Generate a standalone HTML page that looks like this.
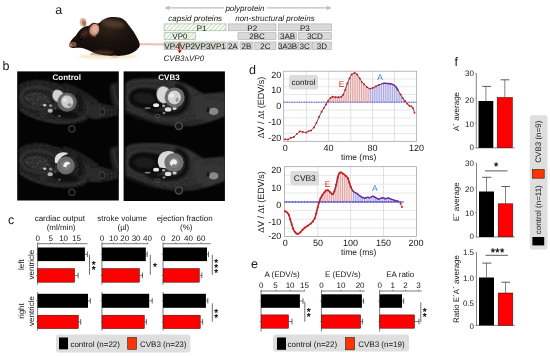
<!DOCTYPE html>
<html lang="en">
<head>
<meta charset="utf-8">
<title>CVB3 cardiac function figure</title>
<style>
html,body{margin:0;padding:0;background:#fff;}
body{width:550px;height:356px;overflow:hidden;}
svg{display:block;}
svg text{font-family:"Liberation Sans",sans-serif;fill:#161616;text-rendering:geometricPrecision;}
</style>
</head>
<body>
<svg width="550" height="356" viewBox="0 0 550 356">
<defs>
<filter id="b05" x="-30%" y="-30%" width="160%" height="160%"><feGaussianBlur stdDeviation="0.55"/></filter>
<filter id="b1" x="-30%" y="-30%" width="160%" height="160%"><feGaussianBlur stdDeviation="1"/></filter>
<filter id="b2" x="-30%" y="-30%" width="160%" height="160%"><feGaussianBlur stdDeviation="1.8"/></filter>
<radialGradient id="mg" cx="0.55" cy="0.3" r="0.75"><stop offset="0" stop-color="#2f2119"/><stop offset="0.5" stop-color="#19110d"/><stop offset="1" stop-color="#100a08"/></radialGradient>
<pattern id="hatch" width="3.2" height="3.2" patternUnits="userSpaceOnUse" patternTransform="rotate(45)"><rect width="3.2" height="3.2" fill="#fbfdf8"/><rect width="1" height="3.2" fill="#c2dfae"/></pattern>
<pattern id="hatch2" width="3.2" height="3.2" patternUnits="userSpaceOnUse" patternTransform="rotate(45)"><rect width="3.2" height="3.2" fill="#d6d8d2"/><rect width="1" height="3.2" fill="#bfd3b0"/></pattern>
<filter id="spk" x="0" y="0" width="100%" height="100%"><feTurbulence type="fractalNoise" baseFrequency="0.5" numOctaves="2" seed="7" result="n"/><feColorMatrix in="n" type="matrix" values="0 0 0 0 1  0 0 0 0 1  0 0 0 0 1  1.6 0 0 0 -0.62" result="a"/><feComposite in="a" in2="SourceGraphic" operator="in"/><feGaussianBlur stdDeviation="0.35"/></filter>
<pattern id="noise" width="5" height="4" patternUnits="userSpaceOnUse"><rect width="5" height="4" fill="#161616"/><circle cx="1" cy="1" r="0.8" fill="#2e2e2e"/><circle cx="3.6" cy="2.8" r="0.9" fill="#262626"/><circle cx="3.4" cy="0.6" r="0.5" fill="#0a0a0a"/></pattern>
</defs>
<rect width="550" height="356" fill="#ffffff"/>
<text x="55.3" y="14" font-size="12.5">a</text>
<text x="2.6" y="70.3" font-size="12.5">b</text>
<text x="8" y="224.3" font-size="12.5">c</text>
<text x="249" y="74" font-size="12.5">d</text>
<text x="251" y="267.9" font-size="12.5">e</text>
<text x="454.5" y="66" font-size="12.5">f</text>
<g id="panel-a">
<g id="mouse">
<ellipse cx="108" cy="56.4" rx="30" ry="2.4" fill="#f4e9c8" filter="url(#b1)"/>
<path d="M139 44.4 C146 43.4 154 44.8 164.2 44.4" fill="none" stroke="#e9c6b6" stroke-width="2.2" stroke-linecap="round"/>
<ellipse cx="83.2" cy="22.3" rx="3.5" ry="4.4" fill="#dcbb9f" transform="rotate(-10 83.2 22.3)"/>
<ellipse cx="84" cy="23.2" rx="2" ry="3" fill="#a57a5e" transform="rotate(-10 84 23.2)"/>
<path d="M69.3 45 C69.5 42 72 39 75.9 35.4 C78 32 80 29.5 83 27.5 C86 26 89 25.5 92 25 C95 24 97 23.5 99.2 23 C103 19.5 107 17.4 111.6 17.1 C115 16.9 118 17.1 120.4 17.8 C123.5 19 126 21.2 127.7 23.7 C131 28 133.5 31 135 33.9 C137.5 38 139 41 139.6 43.4 C140 46 139.2 47.6 137.9 48.5 C136.5 50.5 134.5 52 132 52.9 C128 54.6 124 55.6 120.4 55.8 C117 56.1 113 56 110.2 55.8 C106 55.6 102 55.2 98.5 54.3 C96 53.6 93.5 52.6 91.2 51.4 C88.5 50.2 86 49.2 83.9 48.5 C81 47.9 79 47.9 76.6 47.8 C74 48 71.5 47.9 70.2 47.2 C69.4 46.6 69.2 45.8 69.3 45 Z" fill="url(#mg)"/>
<ellipse cx="113" cy="23.6" rx="12" ry="4.2" fill="#6a4e3a" opacity="0.6" transform="rotate(8 113 23.6)" filter="url(#b2)"/>
<ellipse cx="84.6" cy="33.6" rx="5" ry="3" fill="#55301f" opacity="0.7" transform="rotate(-40 84.6 33.6)" filter="url(#b1)"/>
<ellipse cx="103" cy="52.6" rx="11" ry="2" fill="#5a3c2a" opacity="0.75" filter="url(#b1)"/>
<ellipse cx="73" cy="44.4" rx="3.6" ry="2.6" fill="#8c5247" opacity="0.9" filter="url(#b05)"/>
<ellipse cx="70.4" cy="45" rx="1.4" ry="1.5" fill="#bb8074"/>
<ellipse cx="93.8" cy="29.9" rx="5.9" ry="7.2" fill="#3a221a" transform="rotate(16 93.8 29.9)"/>
<ellipse cx="94.4" cy="29.8" rx="4.7" ry="6.1" fill="#c9947b" transform="rotate(16 94.4 29.8)"/>
<ellipse cx="95" cy="29" rx="2.8" ry="3.8" fill="#deb198" transform="rotate(16 95 29)" filter="url(#b05)"/>
<path d="M91 34 C92 36 94 37 96 36.4" fill="none" stroke="#6a3a2c" stroke-width="1.2" filter="url(#b05)"/>
<circle cx="80.8" cy="38" r="1.75" fill="#050303"/>
<circle cx="80.3" cy="37.5" r="0.45" fill="#aaa"/>
<ellipse cx="114.8" cy="56.7" rx="3.8" ry="1.2" fill="#ecc9bb"/>
<ellipse cx="92.6" cy="54.2" rx="2.4" ry="0.9" fill="#d9a998"/>
</g>
<line x1="167" y1="7.9" x2="224" y2="7.9" stroke="#bdbdbd" stroke-width="1.1"/>
<path d="M164.6 7.9 L169.4 5.6 L169.4 10.2 Z" fill="#bdbdbd"/>
<line x1="267" y1="7.9" x2="329" y2="7.9" stroke="#bdbdbd" stroke-width="1.1"/>
<path d="M331.6 7.9 L326.8 5.6 L326.8 10.2 Z" fill="#bdbdbd"/>
<text x="245" y="10.6" font-size="8" text-anchor="middle" font-style="italic">polyprotein</text>
<text x="195.2" y="20.6" font-size="8" text-anchor="middle" font-style="italic">capsid proteins</text>
<text x="275" y="20.6" font-size="8" text-anchor="middle" font-style="italic">non-structural proteins</text>
<rect x="164.10" y="23.90" width="61.90" height="6.90" fill="url(#hatch)" stroke="#a9a9a9" stroke-width="0.6"/>
<text x="201.6" y="30.5" font-size="8" text-anchor="middle">P1</text>
<rect x="228.40" y="23.90" width="47.60" height="6.90" fill="#d9d9d9" stroke="#a9a9a9" stroke-width="0.6"/>
<text x="252.2" y="30.5" font-size="8" text-anchor="middle">P2</text>
<rect x="278.40" y="23.90" width="52.90" height="6.90" fill="#d9d9d9" stroke="#a9a9a9" stroke-width="0.6"/>
<text x="304.9" y="30.5" font-size="8" text-anchor="middle">P3</text>
<rect x="164.10" y="32.70" width="31.70" height="6.80" fill="url(#hatch)" stroke="#a9a9a9" stroke-width="0.6"/>
<text x="179.9" y="39.2" font-size="8" text-anchor="middle">VP0</text>
<rect x="238.00" y="32.70" width="38.00" height="6.80" fill="#d9d9d9" stroke="#a9a9a9" stroke-width="0.6"/>
<text x="257.0" y="39.2" font-size="8" text-anchor="middle">2BC</text>
<rect x="278.40" y="32.70" width="18.20" height="6.80" fill="#d9d9d9" stroke="#a9a9a9" stroke-width="0.6"/>
<text x="287.5" y="39.2" font-size="8" text-anchor="middle">3AB</text>
<rect x="298.40" y="32.70" width="32.90" height="6.80" fill="#d9d9d9" stroke="#a9a9a9" stroke-width="0.6"/>
<text x="314.9" y="39.2" font-size="8" text-anchor="middle">3CD</text>
<rect x="164.10" y="42.00" width="61.90" height="7.50" fill="url(#hatch2)" stroke="#a9a9a9" stroke-width="0.6"/>
<line x1="179.6" y1="42" x2="179.6" y2="49.5" stroke="#a9a9a9" stroke-width="0.5"/>
<line x1="195.1" y1="42" x2="195.1" y2="49.5" stroke="#a9a9a9" stroke-width="0.5"/>
<line x1="210.6" y1="42" x2="210.6" y2="49.5" stroke="#a9a9a9" stroke-width="0.5"/>
<text x="195.1" y="49.2" font-size="8" text-anchor="middle" textLength="61.6" lengthAdjust="spacingAndGlyphs">VP4VP2VP3VP1</text>
<rect x="227.60" y="42.00" width="10.40" height="7.50" fill="#d9d9d9" stroke="#a9a9a9" stroke-width="0.6"/>
<text x="232.8" y="49.2" font-size="8" text-anchor="middle">2A</text>
<rect x="240.00" y="42.00" width="13.00" height="7.50" fill="#d9d9d9" stroke="#a9a9a9" stroke-width="0.6"/>
<text x="246.5" y="49.2" font-size="8" text-anchor="middle">2B</text>
<rect x="254.80" y="42.00" width="21.20" height="7.50" fill="#d9d9d9" stroke="#a9a9a9" stroke-width="0.6"/>
<text x="265.4" y="49.2" font-size="8" text-anchor="middle">2C</text>
<rect x="278.40" y="42.00" width="8.80" height="7.50" fill="#d9d9d9" stroke="#a9a9a9" stroke-width="0.6"/>
<text x="282.8" y="49.2" font-size="8" text-anchor="middle">3A</text>
<rect x="287.20" y="42.00" width="10.20" height="7.50" fill="#d9d9d9" stroke="#a9a9a9" stroke-width="0.6"/>
<text x="292.3" y="49.2" font-size="8" text-anchor="middle">3B</text>
<rect x="298.20" y="42.00" width="13.00" height="7.50" fill="#d9d9d9" stroke="#a9a9a9" stroke-width="0.6"/>
<text x="304.7" y="49.2" font-size="8" text-anchor="middle">3C</text>
<rect x="312.40" y="42.00" width="18.90" height="7.50" fill="#d9d9d9" stroke="#a9a9a9" stroke-width="0.6"/>
<text x="321.9" y="49.2" font-size="8" text-anchor="middle">3D</text>
<line x1="179.7" y1="42.3" x2="179.7" y2="51" stroke="#d21a1a" stroke-width="0.9"/>
<path d="M179.7 53.6 L177.7 50.2 L181.7 50.2 Z" fill="#b80f0f"/>
<text x="163.6" y="60.7" font-size="8" font-style="italic">CVB3<tspan font-family="Liberation Serif, serif" font-style="normal" font-size="7">Δ</tspan>VP0</text>
</g>
<g id="panel-b">
<rect x="17.20" y="71.40" width="101.60" height="129.10" fill="#040404"/>
<rect x="123.60" y="71.40" width="101.30" height="129.60" fill="#040404"/>
<svg x="17.2" y="71.4" width="101.6" height="129.1" viewBox="0 0 101.6 129.1">
<g transform="translate(0 0)">
<path d="M1.9 14 C5 10 16 7.6 24 8.3 C30 8.8 44 13 52 15.8 C58 18 72 26 78 29.7 C84 32.6 94 34.6 101.6 35.2 L101.6 43.6 C96 44.6 90 46.6 86 46.8 C80 48 74 47.4 70.5 46.6 C68 50 66 51 62 51.6 C56 53.4 44 53 37 52 C30 51 18 47.4 11 44.5 C6 42 2.4 39 1.9 37 Z" fill="#1c1c1c" filter="url(#b1)"/>
<g opacity="0.14"><path d="M1.9 14 C5 10 16 7.6 24 8.3 C30 8.8 44 13 52 15.8 C58 18 72 26 78 29.7 C84 32.6 94 34.6 101.6 35.2 L101.6 43.6 C96 44.6 90 46.6 86 46.8 C80 48 74 47.4 70.5 46.6 C68 50 66 51 62 51.6 C56 53.4 44 53 37 52 C30 51 18 47.4 11 44.5 C6 42 2.4 39 1.9 37 Z" fill="#fff" filter="url(#spk)"/></g>
<path d="M4 24 C6 16 16 14.6 26 16.6 C36 18.6 42 22 42.6 28 C43 34 36 38 26 37.4 C14 36.8 3 33 4 24 Z" fill="none" stroke="#343434" stroke-width="2.6" filter="url(#b1)"/>
<ellipse cx="20.6" cy="27.6" rx="14" ry="7.6" fill="#151515" transform="rotate(7 20.6 27.6)" filter="url(#b05)"/>
<ellipse cx="20.4" cy="27.8" rx="13.2" ry="7" fill="#262626" transform="rotate(7 20.4 27.8)" filter="url(#b1)"/>
<g opacity="0.3"><ellipse cx="20.4" cy="27.8" rx="13.6" ry="7.4" fill="#fff" transform="rotate(7 20.4 27.8)" filter="url(#spk)"/></g>
<path d="M3 38 C12 45 26 49.6 40 50.6 C52 51.4 62 49.6 68 44 C71 40 72 35 70 30" fill="none" stroke="#353535" stroke-width="1.8" filter="url(#b1)"/>
<path d="M46 12.6 C58 15.6 70 23 80 30.6" fill="none" stroke="#2e2e2e" stroke-width="2.2" filter="url(#b1)"/>
<ellipse cx="48" cy="42.4" rx="13" ry="3.6" fill="#070707" transform="rotate(8 48 42.4)" filter="url(#b1)"/>
<path d="M60 22 C64 27 65 34 62 40" fill="none" stroke="#0a0a0a" stroke-width="2.6" filter="url(#b1)"/>
<ellipse cx="78.8" cy="40" rx="9" ry="7" fill="#2b2b2b" filter="url(#b1)"/>
<ellipse cx="85" cy="40.4" rx="2.8" ry="3.2" fill="#1a1a1a" stroke="#444" stroke-width="1" filter="url(#b05)"/>
<path d="M93 13 C96 11.6 100 11 101.6 11 L101.6 38 C98 36 95 33 94 28 C93 22 92.4 17 93 13 Z" fill="#242424" filter="url(#b1)"/>
<path d="M96 14 C97 22 99 30 101.6 35" fill="none" stroke="#363636" stroke-width="1.2" filter="url(#b05)"/>
<circle cx="54.7" cy="57.5" r="3.1" fill="none" stroke="#343434" stroke-width="1.4" filter="url(#b05)"/>
<ellipse cx="27.5" cy="33.8" rx="1.7" ry="1.3" fill="#c4c4c4" filter="url(#b05)"/>
<ellipse cx="33.4" cy="34.2" rx="1.7" ry="1.5" fill="#858585" filter="url(#b05)"/>
<ellipse cx="33" cy="39.3" rx="2.6" ry="2" fill="#b4b4b4" filter="url(#b05)"/>
<ellipse cx="26" cy="43.6" rx="2.6" ry="1.8" fill="none" stroke="#3a3a3a" stroke-width="1" filter="url(#b05)"/>
<ellipse cx="42.3" cy="44.5" rx="1.4" ry="1" fill="#5c5c5c" filter="url(#b05)"/>
<ellipse cx="38" cy="37" rx="1.3" ry="1" fill="#444" filter="url(#b05)"/>

<ellipse cx="41" cy="24.6" rx="5.6" ry="6.6" fill="#d2d2d2" transform="rotate(-32 41 24.6)" filter="url(#b05)"/>
<circle cx="49.8" cy="30.8" r="9.6" fill="#626262" filter="url(#b05)"/>
<ellipse cx="50" cy="30.4" rx="6" ry="6.6" fill="#cbcbcb" transform="rotate(-25 50 30.4)" filter="url(#b05)"/>
<ellipse cx="52.4" cy="33.4" rx="2" ry="1.6" fill="#8c8c8c" filter="url(#b05)"/>
<ellipse cx="47.6" cy="28.6" rx="2.4" ry="2" fill="#e4e4e4" filter="url(#b05)"/>
</g>
<g transform="translate(0 63.5)">
<path d="M1.9 14 C5 10 16 7.6 24 8.3 C30 8.8 44 13 52 15.8 C58 18 72 26 78 29.7 C84 32.6 94 34.6 101.6 35.2 L101.6 43.6 C96 44.6 90 46.6 86 46.8 C80 48 74 47.4 70.5 46.6 C68 50 66 51 62 51.6 C56 53.4 44 53 37 52 C30 51 18 47.4 11 44.5 C6 42 2.4 39 1.9 37 Z" fill="#1c1c1c" filter="url(#b1)"/>
<g opacity="0.14"><path d="M1.9 14 C5 10 16 7.6 24 8.3 C30 8.8 44 13 52 15.8 C58 18 72 26 78 29.7 C84 32.6 94 34.6 101.6 35.2 L101.6 43.6 C96 44.6 90 46.6 86 46.8 C80 48 74 47.4 70.5 46.6 C68 50 66 51 62 51.6 C56 53.4 44 53 37 52 C30 51 18 47.4 11 44.5 C6 42 2.4 39 1.9 37 Z" fill="#fff" filter="url(#spk)"/></g>
<path d="M4 24 C6 16 16 14.6 26 16.6 C36 18.6 42 22 42.6 28 C43 34 36 38 26 37.4 C14 36.8 3 33 4 24 Z" fill="none" stroke="#343434" stroke-width="2.6" filter="url(#b1)"/>
<ellipse cx="20.6" cy="27.6" rx="14" ry="7.6" fill="#151515" transform="rotate(7 20.6 27.6)" filter="url(#b05)"/>
<ellipse cx="20.4" cy="27.8" rx="13.2" ry="7" fill="#262626" transform="rotate(7 20.4 27.8)" filter="url(#b1)"/>
<g opacity="0.3"><ellipse cx="20.4" cy="27.8" rx="13.6" ry="7.4" fill="#fff" transform="rotate(7 20.4 27.8)" filter="url(#spk)"/></g>
<path d="M3 38 C12 45 26 49.6 40 50.6 C52 51.4 62 49.6 68 44 C71 40 72 35 70 30" fill="none" stroke="#353535" stroke-width="1.8" filter="url(#b1)"/>
<path d="M46 12.6 C58 15.6 70 23 80 30.6" fill="none" stroke="#2e2e2e" stroke-width="2.2" filter="url(#b1)"/>
<ellipse cx="48" cy="42.4" rx="13" ry="3.6" fill="#070707" transform="rotate(8 48 42.4)" filter="url(#b1)"/>
<path d="M60 22 C64 27 65 34 62 40" fill="none" stroke="#0a0a0a" stroke-width="2.6" filter="url(#b1)"/>
<ellipse cx="78.8" cy="40" rx="9" ry="7" fill="#2b2b2b" filter="url(#b1)"/>
<ellipse cx="85" cy="40.4" rx="2.8" ry="3.2" fill="#1a1a1a" stroke="#444" stroke-width="1" filter="url(#b05)"/>
<path d="M93 13 C96 11.6 100 11 101.6 11 L101.6 38 C98 36 95 33 94 28 C93 22 92.4 17 93 13 Z" fill="#242424" filter="url(#b1)"/>
<path d="M96 14 C97 22 99 30 101.6 35" fill="none" stroke="#363636" stroke-width="1.2" filter="url(#b05)"/>
<circle cx="54.7" cy="57.5" r="3.1" fill="none" stroke="#343434" stroke-width="1.4" filter="url(#b05)"/>
<ellipse cx="27.5" cy="33.8" rx="1.7" ry="1.3" fill="#c4c4c4" filter="url(#b05)"/>
<ellipse cx="33.4" cy="34.2" rx="1.7" ry="1.5" fill="#858585" filter="url(#b05)"/>
<ellipse cx="33" cy="39.3" rx="2.6" ry="2" fill="#b4b4b4" filter="url(#b05)"/>
<ellipse cx="26" cy="43.6" rx="2.6" ry="1.8" fill="none" stroke="#3a3a3a" stroke-width="1" filter="url(#b05)"/>
<ellipse cx="42.3" cy="44.5" rx="1.4" ry="1" fill="#5c5c5c" filter="url(#b05)"/>
<ellipse cx="38" cy="37" rx="1.3" ry="1" fill="#444" filter="url(#b05)"/>

<path d="M38.6 27.4 C37 21 42.6 16.6 49.6 18.6 C44.4 19.8 41.4 23 41.2 28 Z" fill="#e0e0e0" stroke="#e0e0e0" stroke-width="1.6" stroke-linejoin="round" filter="url(#b05)"/>
<circle cx="48.6" cy="30.6" r="9" fill="#6c6c6c" filter="url(#b05)"/>
<circle cx="48.8" cy="30.6" r="5" fill="#7c7c7c" filter="url(#b05)"/>
<path d="M46.6 31 C46.8 27.8 49.8 26.6 52.2 28.4 C49.8 28.8 48.8 29.8 48.6 31.8 Z" fill="#f4f4f4" stroke="#f4f4f4" stroke-width="1.2" stroke-linejoin="round" filter="url(#b05)"/>
</g>
</svg>
<svg x="123.6" y="71.4" width="101.3" height="129.6" viewBox="0 0 101.3 129.6">
<g transform="translate(0 0)">
<path d="M1.9 11.6 C5 8.6 10 7.6 14.8 7.4 C22 7 30 7 37 7.4 C44 8 50 8.8 55.7 10.2 C61 11.8 66 14 70.5 16.7 C74 19 77 21.4 79.8 22.3 C84 23 88 21.8 92.8 21.3 L101.6 20.4 L101.6 44.6 C98 46 96 46.4 92.8 47.3 C88 49.6 84 51 79.8 52 C75 53.6 70 54.4 65 54.7 C58 55 52 54.6 46.4 53.8 C40 53 33 51.6 27.8 50 C22 48 16 46 11 43.6 C7 42 3 40.8 1.9 40 Z" fill="#2b2b2b" filter="url(#b1)"/>
<g opacity="0.12"><path d="M1.9 11.6 C5 8.6 10 7.6 14.8 7.4 C22 7 30 7 37 7.4 C44 8 50 8.8 55.7 10.2 C61 11.8 66 14 70.5 16.7 C74 19 77 21.4 79.8 22.3 C84 23 88 21.8 92.8 21.3 L101.6 20.4 L101.6 44.6 C98 46 96 46.4 92.8 47.3 C88 49.6 84 51 79.8 52 C75 53.6 70 54.4 65 54.7 C58 55 52 54.6 46.4 53.8 C40 53 33 51.6 27.8 50 C22 48 16 46 11 43.6 C7 42 3 40.8 1.9 40 Z" fill="#fff" filter="url(#spk)"/></g>
<path d="M70 26 C78 22.6 92 22.4 101.6 24 L101.6 43 C94 48 84 51 76 50 C72 44 68 34 70 26 Z" fill="#363636" filter="url(#b2)"/>
<path d="M4 24 C7 14.6 18 13.6 30 16 C40 18 46 22 45 30 C44 38 34 41 22 39.6 C10 38 2.6 33 4 24 Z" fill="#0e0e0e" stroke="#3e3e3e" stroke-width="1.3" filter="url(#b1)"/>
<ellipse cx="21" cy="27" rx="11" ry="5.6" fill="#1b1b1b" transform="rotate(6 21 27)" filter="url(#b1)"/>
<path d="M5 13 C16 9.6 32 9.6 46 11.4 C56 13 64 16.6 72 21.6" fill="none" stroke="#353535" stroke-width="2.4" filter="url(#b1)"/>
<path d="M22 37.6 C30 42 44 43.6 54 41 C62 38.6 65 30 62 21 C60 17 56 14.6 52 14" fill="none" stroke="#0c0c0c" stroke-width="4.6" filter="url(#b1)"/>
<path d="M2 41 C14 47.6 30 52 46 53 C58 53.6 70 52 80 49" fill="none" stroke="#1c1c1c" stroke-width="1.4" filter="url(#b1)"/>
<path d="M6 14 C16 10.6 30 10.6 44 12" fill="none" stroke="#1e1e1e" stroke-width="1.2" filter="url(#b1)"/>
<ellipse cx="90" cy="40" rx="4.8" ry="3.7" fill="#888" filter="url(#b05)"/>
<ellipse cx="84.4" cy="38.6" rx="1.5" ry="2.6" fill="#171717" filter="url(#b05)"/>
<path d="M80 28 C86 24.6 94 25 100 29" fill="none" stroke="#262626" stroke-width="1.2" filter="url(#b1)"/>
<circle cx="55.3" cy="54.7" r="3.5" fill="#141414" stroke="#4a4a4a" stroke-width="1.5" filter="url(#b05)"/>
<ellipse cx="32.5" cy="33.8" rx="3" ry="1.9" fill="#ececec" filter="url(#b05)"/>
<ellipse cx="24" cy="36.7" rx="3.2" ry="0.9" fill="#808080" filter="url(#b05)"/>
<ellipse cx="44.5" cy="38" rx="3.2" ry="2.2" fill="#e0e0e0" filter="url(#b05)"/>
<ellipse cx="51" cy="37" rx="2.1" ry="1.7" fill="#cfcfcf" filter="url(#b05)"/>
<ellipse cx="40" cy="34.3" rx="1.6" ry="1.3" fill="#a8a8a8" filter="url(#b05)"/>
<ellipse cx="40.4" cy="41.6" rx="1.5" ry="1.1" fill="#8e8e8e" filter="url(#b05)"/>
<ellipse cx="34" cy="44.6" rx="2.6" ry="1.8" fill="none" stroke="#4c4c4c" stroke-width="1" filter="url(#b05)"/>

<ellipse cx="40" cy="23.4" rx="7" ry="8.6" fill="#d8d8d8" transform="rotate(-10 40 23.4)" filter="url(#b05)"/>
<circle cx="51" cy="26" r="10" fill="#6c6c6c" filter="url(#b05)"/>
<ellipse cx="50.8" cy="26" rx="6.6" ry="7" fill="#d4d4d4" filter="url(#b05)"/>
<ellipse cx="53.6" cy="28.4" rx="1.6" ry="2.2" fill="#9c9c9c" filter="url(#b05)"/>
<ellipse cx="48" cy="24" rx="2.6" ry="2.2" fill="#ececec" filter="url(#b05)"/>
</g>
<g transform="translate(0 64.5)">
<path d="M1.9 11.6 C5 8.6 10 7.6 14.8 7.4 C22 7 30 7 37 7.4 C44 8 50 8.8 55.7 10.2 C61 11.8 66 14 70.5 16.7 C74 19 77 21.4 79.8 22.3 C84 23 88 21.8 92.8 21.3 L101.6 20.4 L101.6 44.6 C98 46 96 46.4 92.8 47.3 C88 49.6 84 51 79.8 52 C75 53.6 70 54.4 65 54.7 C58 55 52 54.6 46.4 53.8 C40 53 33 51.6 27.8 50 C22 48 16 46 11 43.6 C7 42 3 40.8 1.9 40 Z" fill="#2b2b2b" filter="url(#b1)"/>
<g opacity="0.12"><path d="M1.9 11.6 C5 8.6 10 7.6 14.8 7.4 C22 7 30 7 37 7.4 C44 8 50 8.8 55.7 10.2 C61 11.8 66 14 70.5 16.7 C74 19 77 21.4 79.8 22.3 C84 23 88 21.8 92.8 21.3 L101.6 20.4 L101.6 44.6 C98 46 96 46.4 92.8 47.3 C88 49.6 84 51 79.8 52 C75 53.6 70 54.4 65 54.7 C58 55 52 54.6 46.4 53.8 C40 53 33 51.6 27.8 50 C22 48 16 46 11 43.6 C7 42 3 40.8 1.9 40 Z" fill="#fff" filter="url(#spk)"/></g>
<path d="M70 26 C78 22.6 92 22.4 101.6 24 L101.6 43 C94 48 84 51 76 50 C72 44 68 34 70 26 Z" fill="#363636" filter="url(#b2)"/>
<path d="M4 24 C7 14.6 18 13.6 30 16 C40 18 46 22 45 30 C44 38 34 41 22 39.6 C10 38 2.6 33 4 24 Z" fill="#0e0e0e" stroke="#3e3e3e" stroke-width="1.3" filter="url(#b1)"/>
<ellipse cx="21" cy="27" rx="11" ry="5.6" fill="#1b1b1b" transform="rotate(6 21 27)" filter="url(#b1)"/>
<path d="M5 13 C16 9.6 32 9.6 46 11.4 C56 13 64 16.6 72 21.6" fill="none" stroke="#353535" stroke-width="2.4" filter="url(#b1)"/>
<path d="M22 37.6 C30 42 44 43.6 54 41 C62 38.6 65 30 62 21 C60 17 56 14.6 52 14" fill="none" stroke="#0c0c0c" stroke-width="4.6" filter="url(#b1)"/>
<path d="M2 41 C14 47.6 30 52 46 53 C58 53.6 70 52 80 49" fill="none" stroke="#1c1c1c" stroke-width="1.4" filter="url(#b1)"/>
<path d="M6 14 C16 10.6 30 10.6 44 12" fill="none" stroke="#1e1e1e" stroke-width="1.2" filter="url(#b1)"/>
<ellipse cx="90" cy="40" rx="4.8" ry="3.7" fill="#888" filter="url(#b05)"/>
<ellipse cx="84.4" cy="38.6" rx="1.5" ry="2.6" fill="#171717" filter="url(#b05)"/>
<path d="M80 28 C86 24.6 94 25 100 29" fill="none" stroke="#262626" stroke-width="1.2" filter="url(#b1)"/>
<circle cx="55.3" cy="54.7" r="3.5" fill="#141414" stroke="#4a4a4a" stroke-width="1.5" filter="url(#b05)"/>
<ellipse cx="32.5" cy="33.8" rx="3" ry="1.9" fill="#ececec" filter="url(#b05)"/>
<ellipse cx="24" cy="36.7" rx="3.2" ry="0.9" fill="#808080" filter="url(#b05)"/>
<ellipse cx="44.5" cy="38" rx="3.2" ry="2.2" fill="#e0e0e0" filter="url(#b05)"/>
<ellipse cx="51" cy="37" rx="2.1" ry="1.7" fill="#cfcfcf" filter="url(#b05)"/>
<ellipse cx="40" cy="34.3" rx="1.6" ry="1.3" fill="#a8a8a8" filter="url(#b05)"/>
<ellipse cx="40.4" cy="41.6" rx="1.5" ry="1.1" fill="#8e8e8e" filter="url(#b05)"/>
<ellipse cx="34" cy="44.6" rx="2.6" ry="1.8" fill="none" stroke="#4c4c4c" stroke-width="1" filter="url(#b05)"/>

<path d="M36.4 31 C32.6 24 36 16.2 44.6 15.8 C47.6 15.8 49.6 16.6 50.8 17.8 C44.8 19.2 43 24 43.6 32 Z" fill="#dadada" stroke="#dadada" stroke-width="1.2" stroke-linejoin="round" filter="url(#b05)"/>
<circle cx="50.4" cy="26.6" r="9.6" fill="#707070" filter="url(#b05)"/>
<circle cx="50.4" cy="26.6" r="5.6" fill="#828282" filter="url(#b05)"/>
<path d="M47 28.4 C46.2 24.6 49.6 22.6 52.2 24.4 C53.6 25.6 53.2 27.6 52 28.4 C50.6 27.4 49 27.6 48.2 29.4 Z" fill="#efefef" stroke="#efefef" stroke-width="1" stroke-linejoin="round" filter="url(#b05)"/>
</g>
</svg>
<text x="66.7" y="80.1" font-size="8" text-anchor="middle" style="fill:#fff" font-weight="bold">Control</text>
<text x="169" y="79.6" font-size="8" text-anchor="middle" style="fill:#fff" font-weight="bold">CVB3</text>
</g>
<g id="panel-c">
<text x="59.8" y="221" font-size="8" text-anchor="middle">cardiac output</text>
<text x="61.1" y="230.3" font-size="8" text-anchor="middle">(ml/min)</text>
<text x="122.1" y="221" font-size="8" text-anchor="middle">stroke volume</text>
<text x="123.4" y="230.3" font-size="8" text-anchor="middle">(µl)</text>
<text x="184.7" y="221" font-size="8" text-anchor="middle">ejection fraction</text>
<text x="186.2" y="230.3" font-size="8" text-anchor="middle">(%)</text>
<text x="24.3" y="264.6" font-size="8" text-anchor="middle" transform="rotate(-90 24.3 264.6)">left</text>
<text x="33.6" y="264.6" font-size="8" text-anchor="middle" transform="rotate(-90 33.6 264.6)">ventricle</text>
<text x="24.3" y="311" font-size="8" text-anchor="middle" transform="rotate(-90 24.3 311)">right</text>
<text x="33.6" y="311" font-size="8" text-anchor="middle" transform="rotate(-90 33.6 311)">ventricle</text>
<line x1="37.300000000000004" y1="243.7" x2="87.6" y2="243.7" stroke="#444" stroke-width="0.7"/>
<line x1="37.8" y1="242.39999999999998" x2="37.8" y2="243.7" stroke="#444" stroke-width="0.6"/>
<text x="37.8" y="241" font-size="8" text-anchor="middle">0</text>
<line x1="50.699999999999996" y1="242.39999999999998" x2="50.699999999999996" y2="243.7" stroke="#444" stroke-width="0.6"/>
<text x="50.7" y="241" font-size="8" text-anchor="middle">5</text>
<line x1="63.599999999999994" y1="242.39999999999998" x2="63.599999999999994" y2="243.7" stroke="#444" stroke-width="0.6"/>
<text x="63.6" y="241" font-size="8" text-anchor="middle">10</text>
<line x1="76.5" y1="242.39999999999998" x2="76.5" y2="243.7" stroke="#444" stroke-width="0.6"/>
<text x="76.5" y="241" font-size="8" text-anchor="middle">15</text>
<line x1="37.6" y1="243.7" x2="37.6" y2="284.7" stroke="#444" stroke-width="0.7"/>
<line x1="36.1" y1="254.3" x2="37.6" y2="254.3" stroke="#444" stroke-width="0.5"/>
<line x1="84.9" y1="254.3" x2="87.4" y2="254.3" stroke="#222" stroke-width="0.6"/>
<line x1="87.4" y1="251.5" x2="87.4" y2="257.1" stroke="#222" stroke-width="0.7"/>
<rect x="37.60" y="247.50" width="47.30" height="13.60" fill="#000"/>
<line x1="36.1" y1="275.4" x2="37.6" y2="275.4" stroke="#444" stroke-width="0.5"/>
<line x1="74.8" y1="275.4" x2="78.1" y2="275.4" stroke="#222" stroke-width="0.6"/>
<line x1="78.1" y1="272.59999999999997" x2="78.1" y2="278.2" stroke="#222" stroke-width="0.7"/>
<rect x="37.80" y="268.60" width="36.80" height="13.60" fill="#ff0000" stroke="#3a0000" stroke-width="0.5"/>
<line x1="37.6" y1="292" x2="37.6" y2="330.6" stroke="#444" stroke-width="0.7"/>
<line x1="36.1" y1="300.8" x2="37.6" y2="300.8" stroke="#444" stroke-width="0.5"/>
<line x1="88" y1="300.8" x2="90.3" y2="300.8" stroke="#222" stroke-width="0.6"/>
<line x1="90.3" y1="298.0" x2="90.3" y2="303.6" stroke="#222" stroke-width="0.7"/>
<rect x="37.60" y="293.80" width="50.40" height="14.00" fill="#000"/>
<line x1="36.1" y1="321.9" x2="37.6" y2="321.9" stroke="#444" stroke-width="0.5"/>
<line x1="78.5" y1="321.9" x2="80.7" y2="321.9" stroke="#222" stroke-width="0.6"/>
<line x1="80.7" y1="319.09999999999997" x2="80.7" y2="324.7" stroke="#222" stroke-width="0.7"/>
<rect x="37.80" y="315.20" width="40.50" height="13.40" fill="#ff0000" stroke="#3a0000" stroke-width="0.5"/>
<line x1="101.60000000000001" y1="243.7" x2="148.4" y2="243.7" stroke="#444" stroke-width="0.7"/>
<line x1="102.1" y1="242.39999999999998" x2="102.1" y2="243.7" stroke="#444" stroke-width="0.6"/>
<text x="102.1" y="241" font-size="8" text-anchor="middle">0</text>
<line x1="113.44999999999999" y1="242.39999999999998" x2="113.44999999999999" y2="243.7" stroke="#444" stroke-width="0.6"/>
<text x="113.4" y="241" font-size="8" text-anchor="middle">10</text>
<line x1="124.8" y1="242.39999999999998" x2="124.8" y2="243.7" stroke="#444" stroke-width="0.6"/>
<text x="124.8" y="241" font-size="8" text-anchor="middle">20</text>
<line x1="136.14999999999998" y1="242.39999999999998" x2="136.14999999999998" y2="243.7" stroke="#444" stroke-width="0.6"/>
<text x="136.1" y="241" font-size="8" text-anchor="middle">30</text>
<line x1="147.5" y1="242.39999999999998" x2="147.5" y2="243.7" stroke="#444" stroke-width="0.6"/>
<text x="147.5" y="241" font-size="8" text-anchor="middle">40</text>
<line x1="101.9" y1="243.7" x2="101.9" y2="284.7" stroke="#444" stroke-width="0.7"/>
<line x1="100.4" y1="254.3" x2="101.9" y2="254.3" stroke="#444" stroke-width="0.5"/>
<line x1="145.8" y1="254.3" x2="147.2" y2="254.3" stroke="#222" stroke-width="0.6"/>
<line x1="147.2" y1="251.5" x2="147.2" y2="257.1" stroke="#222" stroke-width="0.7"/>
<rect x="101.90" y="247.50" width="43.90" height="13.60" fill="#000"/>
<line x1="100.4" y1="275.4" x2="101.9" y2="275.4" stroke="#444" stroke-width="0.5"/>
<line x1="139.6" y1="275.4" x2="142.4" y2="275.4" stroke="#222" stroke-width="0.6"/>
<line x1="142.4" y1="272.59999999999997" x2="142.4" y2="278.2" stroke="#222" stroke-width="0.7"/>
<rect x="102.10" y="268.60" width="37.30" height="13.60" fill="#ff0000" stroke="#3a0000" stroke-width="0.5"/>
<line x1="101.9" y1="292" x2="101.9" y2="330.6" stroke="#444" stroke-width="0.7"/>
<line x1="100.4" y1="300.8" x2="101.9" y2="300.8" stroke="#444" stroke-width="0.5"/>
<line x1="149.2" y1="300.8" x2="152.2" y2="300.8" stroke="#222" stroke-width="0.6"/>
<line x1="152.2" y1="298.0" x2="152.2" y2="303.6" stroke="#222" stroke-width="0.7"/>
<rect x="101.90" y="293.80" width="47.30" height="14.00" fill="#000"/>
<line x1="100.4" y1="321.9" x2="101.9" y2="321.9" stroke="#444" stroke-width="0.5"/>
<line x1="144.5" y1="321.9" x2="146.4" y2="321.9" stroke="#222" stroke-width="0.6"/>
<line x1="146.4" y1="319.09999999999997" x2="146.4" y2="324.7" stroke="#222" stroke-width="0.7"/>
<rect x="102.10" y="315.20" width="42.20" height="13.40" fill="#ff0000" stroke="#3a0000" stroke-width="0.5"/>
<line x1="162.7" y1="243.7" x2="210.8" y2="243.7" stroke="#444" stroke-width="0.7"/>
<line x1="163.2" y1="242.39999999999998" x2="163.2" y2="243.7" stroke="#444" stroke-width="0.6"/>
<text x="163.2" y="241" font-size="8" text-anchor="middle">0</text>
<line x1="175.79999999999998" y1="242.39999999999998" x2="175.79999999999998" y2="243.7" stroke="#444" stroke-width="0.6"/>
<text x="175.8" y="241" font-size="8" text-anchor="middle">20</text>
<line x1="188.39999999999998" y1="242.39999999999998" x2="188.39999999999998" y2="243.7" stroke="#444" stroke-width="0.6"/>
<text x="188.4" y="241" font-size="8" text-anchor="middle">40</text>
<line x1="201.0" y1="242.39999999999998" x2="201.0" y2="243.7" stroke="#444" stroke-width="0.6"/>
<text x="201.0" y="241" font-size="8" text-anchor="middle">60</text>
<line x1="163" y1="243.7" x2="163" y2="284.7" stroke="#444" stroke-width="0.7"/>
<line x1="161.5" y1="254.3" x2="163" y2="254.3" stroke="#444" stroke-width="0.5"/>
<line x1="207" y1="254.3" x2="208.5" y2="254.3" stroke="#222" stroke-width="0.6"/>
<line x1="208.5" y1="251.5" x2="208.5" y2="257.1" stroke="#222" stroke-width="0.7"/>
<rect x="163.00" y="247.50" width="44.00" height="13.60" fill="#000"/>
<line x1="161.5" y1="275.4" x2="163" y2="275.4" stroke="#444" stroke-width="0.5"/>
<line x1="199.5" y1="275.4" x2="201.8" y2="275.4" stroke="#222" stroke-width="0.6"/>
<line x1="201.8" y1="272.59999999999997" x2="201.8" y2="278.2" stroke="#222" stroke-width="0.7"/>
<rect x="163.20" y="268.60" width="36.10" height="13.60" fill="#ff0000" stroke="#3a0000" stroke-width="0.5"/>
<line x1="163" y1="292" x2="163" y2="330.6" stroke="#444" stroke-width="0.7"/>
<line x1="161.5" y1="300.8" x2="163" y2="300.8" stroke="#444" stroke-width="0.5"/>
<line x1="205.9" y1="300.8" x2="207.8" y2="300.8" stroke="#222" stroke-width="0.6"/>
<line x1="207.8" y1="298.0" x2="207.8" y2="303.6" stroke="#222" stroke-width="0.7"/>
<rect x="163.00" y="293.80" width="42.90" height="14.00" fill="#000"/>
<line x1="161.5" y1="321.9" x2="163" y2="321.9" stroke="#444" stroke-width="0.5"/>
<line x1="200.4" y1="321.9" x2="202.6" y2="321.9" stroke="#222" stroke-width="0.6"/>
<line x1="202.6" y1="319.09999999999997" x2="202.6" y2="324.7" stroke="#222" stroke-width="0.7"/>
<rect x="163.20" y="315.20" width="37.00" height="13.40" fill="#ff0000" stroke="#3a0000" stroke-width="0.5"/>
<line x1="89.5" y1="254.8" x2="89.5" y2="274.8" stroke="#333" stroke-width="0.7"/>
<text x="93.7" y="268.2" font-size="10" text-anchor="middle" style="fill:#000" stroke="#000" stroke-width="0.25">*</text>
<text x="93.7" y="273.2" font-size="10" text-anchor="middle" style="fill:#000" stroke="#000" stroke-width="0.25">*</text>
<line x1="150.3" y1="254.8" x2="150.3" y2="274.9" stroke="#333" stroke-width="0.7"/>
<text x="154.9" y="270.1" font-size="10" text-anchor="middle" style="fill:#000" stroke="#000" stroke-width="0.25">*</text>
<line x1="212.3" y1="254.8" x2="212.3" y2="274.9" stroke="#333" stroke-width="0.7"/>
<text x="216.1" y="265.7" font-size="10" text-anchor="middle" style="fill:#000" stroke="#000" stroke-width="0.25">*</text>
<text x="216.1" y="270.7" font-size="10" text-anchor="middle" style="fill:#000" stroke="#000" stroke-width="0.25">*</text>
<text x="216.1" y="275.7" font-size="10" text-anchor="middle" style="fill:#000" stroke="#000" stroke-width="0.25">*</text>
<line x1="212.3" y1="303.3" x2="212.3" y2="321.8" stroke="#333" stroke-width="0.7"/>
<text x="216.1" y="315.5" font-size="10" text-anchor="middle" style="fill:#000" stroke="#000" stroke-width="0.25">*</text>
<text x="216.1" y="320.5" font-size="10" text-anchor="middle" style="fill:#000" stroke="#000" stroke-width="0.25">*</text>
<rect x="56.00" y="334.40" width="134.40" height="18.00" fill="#dedede" rx="2.5"/>
<rect x="59.00" y="337.50" width="9.00" height="11.80" fill="#000"/>
<text x="70.4" y="347.2" font-size="8">control (n=22)</text>
<rect x="127.70" y="337.50" width="8.70" height="11.80" fill="#ff3300" stroke="#222" stroke-width="0.6"/>
<text x="140" y="347.2" font-size="8">CVB3 (n=23)</text>
</g>
<g id="panel-d">
<line x1="306.4" y1="71.2" x2="306.4" y2="141.3" stroke="#cfcfcf" stroke-width="0.6"/>
<line x1="328.6" y1="71.2" x2="328.6" y2="141.3" stroke="#cfcfcf" stroke-width="0.6"/>
<line x1="350.8" y1="71.2" x2="350.8" y2="141.3" stroke="#cfcfcf" stroke-width="0.6"/>
<line x1="372.6" y1="71.2" x2="372.6" y2="141.3" stroke="#cfcfcf" stroke-width="0.6"/>
<line x1="394.4" y1="71.2" x2="394.4" y2="141.3" stroke="#cfcfcf" stroke-width="0.6"/>
<line x1="283.7" y1="79.0" x2="416.7" y2="79.0" stroke="#d6d6d6" stroke-width="0.6"/>
<line x1="283.7" y1="86.8" x2="416.7" y2="86.8" stroke="#d6d6d6" stroke-width="0.6"/>
<line x1="283.7" y1="94.5" x2="416.7" y2="94.5" stroke="#d6d6d6" stroke-width="0.6"/>
<line x1="283.7" y1="102.2" x2="416.7" y2="102.2" stroke="#d6d6d6" stroke-width="0.6"/>
<line x1="283.7" y1="110.0" x2="416.7" y2="110.0" stroke="#d6d6d6" stroke-width="0.6"/>
<line x1="283.7" y1="117.9" x2="416.7" y2="117.9" stroke="#d6d6d6" stroke-width="0.6"/>
<line x1="283.7" y1="125.7" x2="416.7" y2="125.7" stroke="#d6d6d6" stroke-width="0.6"/>
<line x1="283.7" y1="133.5" x2="416.7" y2="133.5" stroke="#d6d6d6" stroke-width="0.6"/>
<rect x="283.70" y="71.20" width="133.00" height="70.10" fill="none" stroke="#9a9a9a" stroke-width="0.7"/>
<path d="M327.4 102.2 L327.4 102.1 L328.2 100.8 L330.4 97.9 L332.6 96.8 L335.5 97.2 L338.4 97.2 L341.3 96.8 L343.0 95.0 L345.1 90.1 L347.3 83.5 L349.5 78.4 L351.7 74.5 L354.6 73.0 L357.2 74.5 L359.7 78.4 L361.9 82.1 L364.1 84.2 L367.0 87.2 L369.9 88.6 L369.9 102.2 Z" fill="#f6e4e2"/>
<path d="M369.9 102.2 L369.9 88.6 L372.8 87.9 L375.8 86.4 L378.7 85.0 L381.6 83.8 L384.5 83.2 L387.4 83.5 L390.4 83.8 L393.3 84.7 L396.2 87.2 L398.4 90.8 L400.6 94.5 L402.8 98.1 L405.0 101.0 L405.8 102.0 L405.8 102.2 Z" fill="#e2e0f3"/>
<line x1="328.6" y1="102.2" x2="328.6" y2="100.3" stroke="#c85a5a" stroke-width="0.5"/>
<line x1="330.8" y1="102.2" x2="330.8" y2="97.7" stroke="#c85a5a" stroke-width="0.5"/>
<line x1="333.0" y1="102.2" x2="333.0" y2="96.9" stroke="#c85a5a" stroke-width="0.5"/>
<line x1="335.2" y1="102.2" x2="335.2" y2="97.2" stroke="#c85a5a" stroke-width="0.5"/>
<line x1="337.4" y1="102.2" x2="337.4" y2="97.2" stroke="#c85a5a" stroke-width="0.5"/>
<line x1="339.6" y1="102.2" x2="339.6" y2="97.0" stroke="#c85a5a" stroke-width="0.5"/>
<line x1="341.8" y1="102.2" x2="341.8" y2="96.3" stroke="#c85a5a" stroke-width="0.5"/>
<line x1="344.0" y1="102.2" x2="344.0" y2="92.7" stroke="#c85a5a" stroke-width="0.5"/>
<line x1="346.2" y1="102.2" x2="346.2" y2="86.8" stroke="#c85a5a" stroke-width="0.5"/>
<line x1="348.4" y1="102.2" x2="348.4" y2="81.0" stroke="#c85a5a" stroke-width="0.5"/>
<line x1="350.6" y1="102.2" x2="350.6" y2="76.5" stroke="#c85a5a" stroke-width="0.5"/>
<line x1="352.8" y1="102.2" x2="352.8" y2="73.9" stroke="#c85a5a" stroke-width="0.5"/>
<line x1="355.0" y1="102.2" x2="355.0" y2="73.2" stroke="#c85a5a" stroke-width="0.5"/>
<line x1="357.2" y1="102.2" x2="357.2" y2="74.5" stroke="#c85a5a" stroke-width="0.5"/>
<line x1="359.4" y1="102.2" x2="359.4" y2="77.9" stroke="#c85a5a" stroke-width="0.5"/>
<line x1="361.6" y1="102.2" x2="361.6" y2="81.6" stroke="#c85a5a" stroke-width="0.5"/>
<line x1="363.8" y1="102.2" x2="363.8" y2="83.9" stroke="#c85a5a" stroke-width="0.5"/>
<line x1="366.0" y1="102.2" x2="366.0" y2="86.2" stroke="#c85a5a" stroke-width="0.5"/>
<line x1="368.2" y1="102.2" x2="368.2" y2="87.8" stroke="#c85a5a" stroke-width="0.5"/>
<line x1="370.4" y1="102.2" x2="370.4" y2="88.5" stroke="#6a6acc" stroke-width="0.5"/>
<line x1="372.6" y1="102.2" x2="372.6" y2="87.9" stroke="#6a6acc" stroke-width="0.5"/>
<line x1="374.8" y1="102.2" x2="374.8" y2="86.9" stroke="#6a6acc" stroke-width="0.5"/>
<line x1="377.0" y1="102.2" x2="377.0" y2="85.8" stroke="#6a6acc" stroke-width="0.5"/>
<line x1="379.2" y1="102.2" x2="379.2" y2="84.8" stroke="#6a6acc" stroke-width="0.5"/>
<line x1="381.4" y1="102.2" x2="381.4" y2="83.9" stroke="#6a6acc" stroke-width="0.5"/>
<line x1="383.6" y1="102.2" x2="383.6" y2="83.4" stroke="#6a6acc" stroke-width="0.5"/>
<line x1="385.8" y1="102.2" x2="385.8" y2="83.3" stroke="#6a6acc" stroke-width="0.5"/>
<line x1="388.0" y1="102.2" x2="388.0" y2="83.6" stroke="#6a6acc" stroke-width="0.5"/>
<line x1="390.2" y1="102.2" x2="390.2" y2="83.8" stroke="#6a6acc" stroke-width="0.5"/>
<line x1="392.4" y1="102.2" x2="392.4" y2="84.4" stroke="#6a6acc" stroke-width="0.5"/>
<line x1="394.6" y1="102.2" x2="394.6" y2="85.8" stroke="#6a6acc" stroke-width="0.5"/>
<line x1="396.8" y1="102.2" x2="396.8" y2="88.2" stroke="#6a6acc" stroke-width="0.5"/>
<line x1="399.0" y1="102.2" x2="399.0" y2="91.8" stroke="#6a6acc" stroke-width="0.5"/>
<line x1="401.2" y1="102.2" x2="401.2" y2="95.5" stroke="#6a6acc" stroke-width="0.5"/>
<line x1="403.4" y1="102.2" x2="403.4" y2="98.9" stroke="#6a6acc" stroke-width="0.5"/>
<line x1="405.6" y1="102.2" x2="405.6" y2="101.7" stroke="#6a6acc" stroke-width="0.5"/>
<line x1="283.7" y1="102.2" x2="416.7" y2="102.2" stroke="#3a3ac0" stroke-width="1.0" stroke-dasharray="1 0.7"/>
<path d="M285.1 139.2 C285.6 139.2 287.0 139.7 288.0 139.5 C289.0 139.3 289.9 138.2 290.9 137.8 C291.9 137.4 292.9 137.6 293.9 137.0 C294.9 136.4 295.8 135.0 296.8 134.1 C297.8 133.2 298.7 131.9 299.7 131.5 C300.7 131.1 301.5 131.7 302.6 131.9 C303.7 132.1 305.3 132.6 306.3 132.5 C307.3 132.4 307.7 131.4 308.5 131.1 C309.3 130.8 310.2 131.1 311.1 130.5 C312.0 129.9 313.0 128.7 313.9 127.4 C314.8 126.1 315.6 124.5 316.5 122.7 C317.4 121.0 318.2 118.7 319.1 116.9 C320.0 115.1 320.8 113.3 321.6 111.8 C322.4 110.3 323.1 109.3 323.8 108.1 C324.5 106.9 325.3 105.7 326.0 104.5 C326.7 103.3 327.5 101.9 328.2 100.8 C328.9 99.7 329.7 98.6 330.4 97.9 C331.1 97.2 331.8 96.9 332.6 96.8 C333.5 96.7 334.5 97.1 335.5 97.2 C336.5 97.3 337.4 97.3 338.4 97.2 C339.4 97.1 340.5 97.2 341.3 96.8 C342.1 96.4 342.4 96.1 343.0 95.0 C343.6 93.9 344.4 92.0 345.1 90.1 C345.8 88.2 346.6 85.5 347.3 83.5 C348.0 81.5 348.8 79.9 349.5 78.4 C350.2 76.9 350.8 75.4 351.7 74.5 C352.6 73.6 353.7 73.0 354.6 73.0 C355.5 73.0 356.4 73.6 357.2 74.5 C358.0 75.4 358.9 77.1 359.7 78.4 C360.5 79.7 361.2 81.1 361.9 82.1 C362.6 83.1 363.2 83.3 364.1 84.2 C365.0 85.1 366.0 86.5 367.0 87.2 C368.0 87.9 368.9 88.5 369.9 88.6 C370.9 88.7 371.8 88.3 372.8 87.9 C373.8 87.5 374.8 86.9 375.8 86.4 C376.8 85.9 377.7 85.4 378.7 85.0 C379.7 84.6 380.6 84.1 381.6 83.8 C382.6 83.5 383.5 83.2 384.5 83.2 C385.5 83.2 386.4 83.4 387.4 83.5 C388.4 83.6 389.4 83.6 390.4 83.8 C391.4 84.0 392.3 84.1 393.3 84.7 C394.3 85.3 395.4 86.2 396.2 87.2 C397.0 88.2 397.7 89.6 398.4 90.8 C399.1 92.0 399.9 93.3 400.6 94.5 C401.3 95.7 402.1 97.0 402.8 98.1 C403.5 99.2 404.3 100.1 405.0 101.0 C405.7 101.9 406.5 102.9 407.2 103.7 C407.9 104.5 408.6 105.2 409.3 105.7 C410.0 106.2 410.9 106.0 411.5 106.4 C412.1 106.8 412.5 107.2 413.0 108.3 C413.5 109.3 414.2 112.0 414.5 112.7" fill="none" stroke="#3c3c58" stroke-width="0.9"/>
<path d="M381.6 83.8 C382.1 83.7 383.5 83.2 384.5 83.2 C385.5 83.2 386.4 83.4 387.4 83.5 C388.4 83.6 389.4 83.6 390.4 83.8 C391.4 84.0 392.3 84.1 393.3 84.7 C394.3 85.3 395.4 86.2 396.2 87.2 C397.0 88.2 398.0 90.2 398.4 90.8" fill="none" stroke="#6a2aa8" stroke-width="1.5"/>
<g fill="#e01010"><circle cx="285.1" cy="139.2" r="0.95"/><circle cx="288.0" cy="139.5" r="0.95"/><circle cx="290.9" cy="137.8" r="0.95"/><circle cx="293.9" cy="137.0" r="0.95"/><circle cx="296.8" cy="134.1" r="0.95"/><circle cx="299.7" cy="131.5" r="0.95"/><circle cx="302.6" cy="131.9" r="0.95"/><circle cx="306.3" cy="132.5" r="0.95"/><circle cx="308.5" cy="131.1" r="0.95"/><circle cx="311.1" cy="130.5" r="0.95"/><circle cx="313.9" cy="127.4" r="0.95"/><circle cx="316.5" cy="122.7" r="0.95"/><circle cx="319.1" cy="116.9" r="0.95"/><circle cx="321.6" cy="111.8" r="0.95"/><circle cx="323.8" cy="108.1" r="0.95"/><circle cx="326.0" cy="104.5" r="0.95"/><circle cx="328.2" cy="100.8" r="0.95"/><circle cx="330.4" cy="97.9" r="0.95"/><circle cx="332.6" cy="96.8" r="0.95"/><circle cx="335.5" cy="97.2" r="0.95"/><circle cx="338.4" cy="97.2" r="0.95"/><circle cx="341.3" cy="96.8" r="0.95"/><circle cx="343.0" cy="95.0" r="0.95"/><circle cx="345.1" cy="90.1" r="0.95"/><circle cx="347.3" cy="83.5" r="0.95"/><circle cx="349.5" cy="78.4" r="0.95"/><circle cx="351.7" cy="74.5" r="0.95"/><circle cx="354.6" cy="73.0" r="0.95"/><circle cx="357.2" cy="74.5" r="0.95"/><circle cx="359.7" cy="78.4" r="0.95"/><circle cx="361.9" cy="82.1" r="0.95"/><circle cx="364.1" cy="84.2" r="0.95"/><circle cx="367.0" cy="87.2" r="0.95"/><circle cx="369.9" cy="88.6" r="0.95"/><circle cx="372.8" cy="87.9" r="0.95"/><circle cx="375.8" cy="86.4" r="0.95"/><circle cx="378.7" cy="85.0" r="0.95"/><circle cx="400.6" cy="94.5" r="0.95"/><circle cx="402.8" cy="98.1" r="0.95"/><circle cx="405.0" cy="101.0" r="0.95"/><circle cx="407.2" cy="103.7" r="0.95"/><circle cx="409.3" cy="105.7" r="0.95"/><circle cx="411.5" cy="106.4" r="0.95"/><circle cx="413.0" cy="108.3" r="0.95"/><circle cx="414.5" cy="112.7" r="0.95"/></g>
<rect x="289.00" y="75.00" width="29.00" height="14.40" fill="#dcdcdc" rx="2.5"/>
<text x="303.6" y="85.3" font-size="8" text-anchor="middle">control</text>
<text x="341.6" y="87" font-size="8.5" text-anchor="middle" style="fill:#d02020">E</text>
<text x="380" y="80" font-size="8.5" text-anchor="middle" style="fill:#2f7fc0">A</text>
<text x="281.2" y="77.8" font-size="9" text-anchor="end">20</text>
<text x="281.2" y="93.3" font-size="9" text-anchor="end">10</text>
<text x="281.2" y="108.8" font-size="9" text-anchor="end">0</text>
<text x="281.2" y="124.6" font-size="9" text-anchor="end">-10</text>
<text x="281.2" y="140.6" font-size="9" text-anchor="end">-20</text>
<text x="285.3" y="151" font-size="9" text-anchor="middle">0</text>
<text x="328.4" y="151" font-size="9" text-anchor="middle">40</text>
<text x="372.4" y="151" font-size="9" text-anchor="middle">80</text>
<text x="416.6" y="151" font-size="9" text-anchor="middle">120</text>
<text x="358.6" y="160.3" font-size="8.5" text-anchor="middle">time (ms)</text>
<text x="264" y="107.5" font-size="9" text-anchor="middle" transform="rotate(-90 264 107.5)"><tspan font-family="Liberation Serif, serif">Δ</tspan>V / <tspan font-family="Liberation Serif, serif">Δ</tspan>t (EDV/s)</text>
<line x1="317.8" y1="166.7" x2="317.8" y2="236.4" stroke="#cfcfcf" stroke-width="0.6"/>
<line x1="350.6" y1="166.7" x2="350.6" y2="236.4" stroke="#cfcfcf" stroke-width="0.6"/>
<line x1="383.5" y1="166.7" x2="383.5" y2="236.4" stroke="#cfcfcf" stroke-width="0.6"/>
<line x1="284.4" y1="175.4" x2="416.6" y2="175.4" stroke="#d6d6d6" stroke-width="0.6"/>
<line x1="284.4" y1="184.2" x2="416.6" y2="184.2" stroke="#d6d6d6" stroke-width="0.6"/>
<line x1="284.4" y1="193.0" x2="416.6" y2="193.0" stroke="#d6d6d6" stroke-width="0.6"/>
<line x1="284.4" y1="210.4" x2="416.6" y2="210.4" stroke="#d6d6d6" stroke-width="0.6"/>
<line x1="284.4" y1="219.2" x2="416.6" y2="219.2" stroke="#d6d6d6" stroke-width="0.6"/>
<line x1="284.4" y1="228.0" x2="416.6" y2="228.0" stroke="#d6d6d6" stroke-width="0.6"/>
<rect x="284.40" y="166.70" width="132.20" height="69.70" fill="none" stroke="#9a9a9a" stroke-width="0.7"/>
<path d="M319.3 202 L319.3 201.8 L320.6 198.0 L322.3 195.1 L324.5 192.2 L326.0 190.4 L328.2 190.4 L330.4 192.4 L332.6 194.3 L334.3 191.4 L336.2 184.8 L337.7 177.5 L339.1 173.4 L341.0 172.4 L343.5 173.9 L345.7 175.8 L347.9 178.2 L349.3 182.6 L350.8 187.0 L352.7 190.7 L352.7 202 Z" fill="#f6e4e2"/>
<path d="M352.7 202 L352.7 190.7 L354.6 192.4 L357.2 193.6 L359.7 195.8 L361.9 197.2 L364.8 198.2 L367.7 197.2 L369.9 197.7 L372.8 196.2 L375.8 197.7 L378.7 199.1 L382.3 197.7 L385.3 198.7 L388.2 198.0 L391.1 199.1 L394.0 200.1 L396.9 200.9 L399.1 201.6 L399.3 201.9 L399.3 202 Z" fill="#e2e0f3"/>
<line x1="320.5" y1="202" x2="320.5" y2="198.3" stroke="#c85a5a" stroke-width="0.5"/>
<line x1="322.7" y1="202" x2="322.7" y2="194.6" stroke="#c85a5a" stroke-width="0.5"/>
<line x1="324.9" y1="202" x2="324.9" y2="191.7" stroke="#c85a5a" stroke-width="0.5"/>
<line x1="327.1" y1="202" x2="327.1" y2="190.4" stroke="#c85a5a" stroke-width="0.5"/>
<line x1="329.3" y1="202" x2="329.3" y2="191.4" stroke="#c85a5a" stroke-width="0.5"/>
<line x1="331.5" y1="202" x2="331.5" y2="193.3" stroke="#c85a5a" stroke-width="0.5"/>
<line x1="333.7" y1="202" x2="333.7" y2="192.4" stroke="#c85a5a" stroke-width="0.5"/>
<line x1="335.9" y1="202" x2="335.9" y2="185.8" stroke="#c85a5a" stroke-width="0.5"/>
<line x1="338.1" y1="202" x2="338.1" y2="176.3" stroke="#c85a5a" stroke-width="0.5"/>
<line x1="340.3" y1="202" x2="340.3" y2="172.8" stroke="#c85a5a" stroke-width="0.5"/>
<line x1="342.5" y1="202" x2="342.5" y2="173.3" stroke="#c85a5a" stroke-width="0.5"/>
<line x1="344.7" y1="202" x2="344.7" y2="174.9" stroke="#c85a5a" stroke-width="0.5"/>
<line x1="346.9" y1="202" x2="346.9" y2="177.1" stroke="#c85a5a" stroke-width="0.5"/>
<line x1="349.1" y1="202" x2="349.1" y2="182.0" stroke="#c85a5a" stroke-width="0.5"/>
<line x1="351.3" y1="202" x2="351.3" y2="188.0" stroke="#c85a5a" stroke-width="0.5"/>
<line x1="353.5" y1="202" x2="353.5" y2="191.4" stroke="#6a6acc" stroke-width="0.5"/>
<line x1="355.7" y1="202" x2="355.7" y2="192.9" stroke="#6a6acc" stroke-width="0.5"/>
<line x1="357.9" y1="202" x2="357.9" y2="194.2" stroke="#6a6acc" stroke-width="0.5"/>
<line x1="360.1" y1="202" x2="360.1" y2="196.1" stroke="#6a6acc" stroke-width="0.5"/>
<line x1="362.3" y1="202" x2="362.3" y2="197.3" stroke="#6a6acc" stroke-width="0.5"/>
<line x1="364.5" y1="202" x2="364.5" y2="198.1" stroke="#6a6acc" stroke-width="0.5"/>
<line x1="366.7" y1="202" x2="366.7" y2="197.5" stroke="#6a6acc" stroke-width="0.5"/>
<line x1="368.9" y1="202" x2="368.9" y2="197.5" stroke="#6a6acc" stroke-width="0.5"/>
<line x1="371.1" y1="202" x2="371.1" y2="197.1" stroke="#6a6acc" stroke-width="0.5"/>
<line x1="373.3" y1="202" x2="373.3" y2="196.4" stroke="#6a6acc" stroke-width="0.5"/>
<line x1="375.5" y1="202" x2="375.5" y2="197.5" stroke="#6a6acc" stroke-width="0.5"/>
<line x1="377.7" y1="202" x2="377.7" y2="198.6" stroke="#6a6acc" stroke-width="0.5"/>
<line x1="379.9" y1="202" x2="379.9" y2="198.6" stroke="#6a6acc" stroke-width="0.5"/>
<line x1="382.1" y1="202" x2="382.1" y2="197.8" stroke="#6a6acc" stroke-width="0.5"/>
<line x1="384.3" y1="202" x2="384.3" y2="198.4" stroke="#6a6acc" stroke-width="0.5"/>
<line x1="386.5" y1="202" x2="386.5" y2="198.4" stroke="#6a6acc" stroke-width="0.5"/>
<line x1="388.7" y1="202" x2="388.7" y2="198.2" stroke="#6a6acc" stroke-width="0.5"/>
<line x1="390.9" y1="202" x2="390.9" y2="199.0" stroke="#6a6acc" stroke-width="0.5"/>
<line x1="393.1" y1="202" x2="393.1" y2="199.8" stroke="#6a6acc" stroke-width="0.5"/>
<line x1="395.3" y1="202" x2="395.3" y2="200.5" stroke="#6a6acc" stroke-width="0.5"/>
<line x1="397.5" y1="202" x2="397.5" y2="201.1" stroke="#6a6acc" stroke-width="0.5"/>
<line x1="284.4" y1="202" x2="403.5" y2="202" stroke="#3a3ac0" stroke-width="1.6" stroke-dasharray="1.2 0.3"/>
<path d="M285.1 211.2 C285.5 211.4 286.7 212.0 287.3 212.6 C287.9 213.2 288.3 213.7 288.8 214.8 C289.3 215.9 289.7 217.6 290.2 219.2 C290.7 220.8 291.2 222.7 291.7 224.3 C292.2 225.9 292.6 227.5 293.1 228.7 C293.6 229.9 294.1 230.8 294.6 231.6 C295.2 232.4 295.8 233.1 296.4 233.5 C297.0 233.9 297.5 234.0 298.2 233.8 C298.9 233.6 299.7 233.0 300.4 232.3 C301.1 231.6 301.9 230.5 302.6 229.7 C303.3 228.9 304.0 228.3 304.8 227.7 C305.6 227.0 306.7 226.5 307.7 225.8 C308.7 225.1 309.8 224.3 310.7 223.6 C311.6 222.9 312.1 222.2 312.8 221.4 C313.5 220.6 314.1 219.8 314.7 218.5 C315.3 217.2 315.7 215.2 316.2 213.4 C316.7 211.6 317.2 209.3 317.7 207.5 C318.2 205.7 318.6 204.0 319.1 202.4 C319.6 200.8 320.1 199.2 320.6 198.0 C321.1 196.8 321.7 196.1 322.3 195.1 C322.9 194.1 323.9 193.0 324.5 192.2 C325.1 191.4 325.4 190.7 326.0 190.4 C326.6 190.1 327.5 190.1 328.2 190.4 C328.9 190.7 329.7 191.8 330.4 192.4 C331.1 193.1 332.0 194.5 332.6 194.3 C333.2 194.1 333.7 193.0 334.3 191.4 C334.9 189.8 335.6 187.1 336.2 184.8 C336.8 182.5 337.2 179.4 337.7 177.5 C338.2 175.6 338.6 174.2 339.1 173.4 C339.7 172.6 340.3 172.3 341.0 172.4 C341.7 172.5 342.7 173.3 343.5 173.9 C344.3 174.5 345.0 175.1 345.7 175.8 C346.4 176.5 347.3 177.1 347.9 178.2 C348.5 179.3 348.8 181.1 349.3 182.6 C349.8 184.1 350.2 185.7 350.8 187.0 C351.4 188.3 352.4 190.1 352.7 190.7" fill="none" stroke="#e01818" stroke-width="1.7" stroke-opacity="0.8" stroke-linecap="round"/>
<path d="M285.1 211.2 C285.5 211.4 286.7 212.0 287.3 212.6 C287.9 213.2 288.3 213.7 288.8 214.8 C289.3 215.9 289.7 217.6 290.2 219.2 C290.7 220.8 291.2 222.7 291.7 224.3 C292.2 225.9 292.6 227.5 293.1 228.7 C293.6 229.9 294.1 230.8 294.6 231.6 C295.2 232.4 295.8 233.1 296.4 233.5 C297.0 233.9 297.5 234.0 298.2 233.8 C298.9 233.6 299.7 233.0 300.4 232.3 C301.1 231.6 301.9 230.5 302.6 229.7 C303.3 228.9 304.0 228.3 304.8 227.7 C305.6 227.0 306.7 226.5 307.7 225.8 C308.7 225.1 309.8 224.3 310.7 223.6 C311.6 222.9 312.1 222.2 312.8 221.4 C313.5 220.6 314.1 219.8 314.7 218.5 C315.3 217.2 315.7 215.2 316.2 213.4 C316.7 211.6 317.2 209.3 317.7 207.5 C318.2 205.7 318.6 204.0 319.1 202.4 C319.6 200.8 320.1 199.2 320.6 198.0 C321.1 196.8 321.7 196.1 322.3 195.1 C322.9 194.1 323.9 193.0 324.5 192.2 C325.1 191.4 325.4 190.7 326.0 190.4 C326.6 190.1 327.5 190.1 328.2 190.4 C328.9 190.7 329.7 191.8 330.4 192.4 C331.1 193.1 332.0 194.5 332.6 194.3 C333.2 194.1 333.7 193.0 334.3 191.4 C334.9 189.8 335.6 187.1 336.2 184.8 C336.8 182.5 337.2 179.4 337.7 177.5 C338.2 175.6 338.6 174.2 339.1 173.4 C339.7 172.6 340.3 172.3 341.0 172.4 C341.7 172.5 342.7 173.3 343.5 173.9 C344.3 174.5 345.0 175.1 345.7 175.8 C346.4 176.5 347.3 177.1 347.9 178.2 C348.5 179.3 348.8 181.1 349.3 182.6 C349.8 184.1 350.2 185.7 350.8 187.0 C351.4 188.3 352.1 189.8 352.7 190.7 C353.3 191.6 353.9 191.9 354.6 192.4 C355.4 192.9 356.4 193.0 357.2 193.6 C358.0 194.2 358.9 195.2 359.7 195.8 C360.5 196.4 361.0 196.8 361.9 197.2 C362.8 197.6 363.8 198.2 364.8 198.2 C365.8 198.2 366.9 197.3 367.7 197.2 C368.5 197.1 369.0 197.9 369.9 197.7 C370.8 197.5 371.8 196.2 372.8 196.2 C373.8 196.2 374.8 197.2 375.8 197.7 C376.8 198.2 377.6 199.1 378.7 199.1 C379.8 199.1 381.2 197.8 382.3 197.7 C383.4 197.6 384.3 198.6 385.3 198.7 C386.3 198.8 387.2 197.9 388.2 198.0 C389.2 198.1 390.1 198.8 391.1 199.1 C392.1 199.4 393.0 199.8 394.0 200.1 C395.0 200.4 396.0 200.7 396.9 200.9 C397.8 201.2 398.5 201.1 399.1 201.6 C399.7 202.1 400.1 202.9 400.6 203.8 C401.1 204.7 401.8 206.5 402.0 207.0" fill="none" stroke="#3c3c58" stroke-width="0.75"/>
<path d="M352.7 190.7 C353.0 191.0 353.9 191.9 354.6 192.4 C355.4 192.9 356.4 193.0 357.2 193.6 C358.0 194.2 358.9 195.2 359.7 195.8 C360.5 196.4 361.0 196.8 361.9 197.2 C362.8 197.6 363.8 198.2 364.8 198.2 C365.8 198.2 366.9 197.3 367.7 197.2 C368.5 197.1 369.0 197.9 369.9 197.7 C370.8 197.5 371.8 196.2 372.8 196.2 C373.8 196.2 374.8 197.2 375.8 197.7 C376.8 198.2 377.6 199.1 378.7 199.1 C379.8 199.1 381.2 197.8 382.3 197.7 C383.4 197.6 384.3 198.6 385.3 198.7 C386.3 198.8 387.2 197.9 388.2 198.0 C389.2 198.1 390.1 198.8 391.1 199.1 C392.1 199.4 393.0 199.8 394.0 200.1 C395.0 200.4 396.0 200.7 396.9 200.9 C397.8 201.2 398.7 201.5 399.1 201.6" fill="none" stroke="#6a2aa8" stroke-width="1.5"/>
<g fill="#e01010"><circle cx="285.1" cy="211.2" r="0.95"/><circle cx="287.3" cy="212.6" r="0.95"/><circle cx="288.8" cy="214.8" r="0.95"/><circle cx="290.2" cy="219.2" r="0.95"/><circle cx="291.7" cy="224.3" r="0.95"/><circle cx="293.1" cy="228.7" r="0.95"/><circle cx="294.6" cy="231.6" r="0.95"/><circle cx="296.4" cy="233.5" r="0.95"/><circle cx="298.2" cy="233.8" r="0.95"/><circle cx="300.4" cy="232.3" r="0.95"/><circle cx="302.6" cy="229.7" r="0.95"/><circle cx="304.8" cy="227.7" r="0.95"/><circle cx="307.7" cy="225.8" r="0.95"/><circle cx="310.7" cy="223.6" r="0.95"/><circle cx="312.8" cy="221.4" r="0.95"/><circle cx="314.7" cy="218.5" r="0.95"/><circle cx="316.2" cy="213.4" r="0.95"/><circle cx="317.7" cy="207.5" r="0.95"/><circle cx="319.1" cy="202.4" r="0.95"/><circle cx="320.6" cy="198.0" r="0.95"/><circle cx="322.3" cy="195.1" r="0.95"/><circle cx="324.5" cy="192.2" r="0.95"/><circle cx="326.0" cy="190.4" r="0.95"/><circle cx="328.2" cy="190.4" r="0.95"/><circle cx="330.4" cy="192.4" r="0.95"/><circle cx="332.6" cy="194.3" r="0.95"/><circle cx="334.3" cy="191.4" r="0.95"/><circle cx="336.2" cy="184.8" r="0.95"/><circle cx="337.7" cy="177.5" r="0.95"/><circle cx="339.1" cy="173.4" r="0.95"/><circle cx="341.0" cy="172.4" r="0.95"/><circle cx="343.5" cy="173.9" r="0.95"/><circle cx="345.7" cy="175.8" r="0.95"/><circle cx="347.9" cy="178.2" r="0.95"/><circle cx="349.3" cy="182.6" r="0.95"/><circle cx="350.8" cy="187.0" r="0.95"/><circle cx="400.6" cy="203.8" r="0.95"/><circle cx="402.0" cy="207.0" r="0.95"/></g>
<rect x="290.30" y="171.10" width="28.70" height="14.40" fill="#dcdcdc" rx="2.5"/>
<text x="304.8" y="181.4" font-size="8.4" text-anchor="middle">CVB3</text>
<text x="327.6" y="187.4" font-size="8.5" text-anchor="middle" style="fill:#d02020">E</text>
<text x="374.8" y="190.8" font-size="8.5" text-anchor="middle" style="fill:#2f7fc0">A</text>
<text x="281.2" y="173.2" font-size="9" text-anchor="end">20</text>
<text x="281.2" y="190.6" font-size="9" text-anchor="end">10</text>
<text x="281.2" y="207.9" font-size="9" text-anchor="end">0</text>
<text x="281.2" y="225.2" font-size="9" text-anchor="end">-10</text>
<text x="281.2" y="238.6" font-size="9" text-anchor="end">-20</text>
<text x="285.3" y="245.5" font-size="9" text-anchor="middle">0</text>
<text x="318.0" y="245.5" font-size="9" text-anchor="middle">50</text>
<text x="350.6" y="245.5" font-size="9" text-anchor="middle">100</text>
<text x="383.5" y="245.5" font-size="9" text-anchor="middle">150</text>
<text x="416.0" y="245.5" font-size="9" text-anchor="middle">200</text>
<text x="358.6" y="255.4" font-size="8.5" text-anchor="middle">time (ms)</text>
<text x="264" y="202" font-size="9" text-anchor="middle" transform="rotate(-90 264 202)"><tspan font-family="Liberation Serif, serif">Δ</tspan>V / <tspan font-family="Liberation Serif, serif">Δ</tspan>t (EDV/s)</text>
</g>
<g id="panel-e">
<text x="282" y="276.8" font-size="8" text-anchor="middle">A (EDV/s)</text>
<text x="342.8" y="276.8" font-size="8" text-anchor="middle">E (EDV/s)</text>
<text x="400.3" y="276.8" font-size="8" text-anchor="middle">EA ratio</text>
<line x1="260.7" y1="291" x2="304.8" y2="291" stroke="#444" stroke-width="0.7"/>
<line x1="261.2" y1="289.7" x2="261.2" y2="291" stroke="#444" stroke-width="0.6"/>
<text x="261.2" y="288.4" font-size="8" text-anchor="middle">0</text>
<line x1="275.65" y1="289.7" x2="275.65" y2="291" stroke="#444" stroke-width="0.6"/>
<text x="275.6" y="288.4" font-size="8" text-anchor="middle">5</text>
<line x1="290.09999999999997" y1="289.7" x2="290.09999999999997" y2="291" stroke="#444" stroke-width="0.6"/>
<text x="290.1" y="288.4" font-size="8" text-anchor="middle">10</text>
<line x1="304.54999999999995" y1="289.7" x2="304.54999999999995" y2="291" stroke="#444" stroke-width="0.6"/>
<text x="304.5" y="288.4" font-size="8" text-anchor="middle">15</text>
<line x1="261" y1="291" x2="261" y2="331.5" stroke="#444" stroke-width="0.7"/>
<line x1="259.5" y1="301.05" x2="261" y2="301.05" stroke="#444" stroke-width="0.5"/>
<line x1="299.9" y1="301.05" x2="303" y2="301.05" stroke="#222" stroke-width="0.6"/>
<line x1="303" y1="298.25" x2="303" y2="303.85" stroke="#222" stroke-width="0.7"/>
<rect x="261.00" y="294.30" width="38.90" height="13.50" fill="#000"/>
<line x1="259.5" y1="321.54999999999995" x2="261" y2="321.54999999999995" stroke="#444" stroke-width="0.5"/>
<line x1="288.7" y1="321.54999999999995" x2="292" y2="321.54999999999995" stroke="#222" stroke-width="0.6"/>
<line x1="292" y1="318.74999999999994" x2="292" y2="324.34999999999997" stroke="#222" stroke-width="0.7"/>
<rect x="261.20" y="314.90" width="27.30" height="13.30" fill="#ff0000" stroke="#3a0000" stroke-width="0.5"/>
<line x1="321.09999999999997" y1="291" x2="364.7" y2="291" stroke="#444" stroke-width="0.7"/>
<line x1="321.6" y1="289.7" x2="321.6" y2="291" stroke="#444" stroke-width="0.6"/>
<text x="321.6" y="288.4" font-size="8" text-anchor="middle">0</text>
<line x1="340.85" y1="289.7" x2="340.85" y2="291" stroke="#444" stroke-width="0.6"/>
<text x="340.9" y="288.4" font-size="8" text-anchor="middle">10</text>
<line x1="360.1" y1="289.7" x2="360.1" y2="291" stroke="#444" stroke-width="0.6"/>
<text x="360.1" y="288.4" font-size="8" text-anchor="middle">20</text>
<line x1="321.4" y1="291" x2="321.4" y2="331.5" stroke="#444" stroke-width="0.7"/>
<line x1="319.9" y1="301.05" x2="321.4" y2="301.05" stroke="#444" stroke-width="0.5"/>
<line x1="361.9" y1="301.05" x2="363.6" y2="301.05" stroke="#222" stroke-width="0.6"/>
<line x1="363.6" y1="298.25" x2="363.6" y2="303.85" stroke="#222" stroke-width="0.7"/>
<rect x="321.40" y="294.30" width="40.50" height="13.50" fill="#000"/>
<line x1="319.9" y1="321.54999999999995" x2="321.4" y2="321.54999999999995" stroke="#444" stroke-width="0.5"/>
<line x1="360.8" y1="321.54999999999995" x2="362.6" y2="321.54999999999995" stroke="#222" stroke-width="0.6"/>
<line x1="362.6" y1="318.74999999999994" x2="362.6" y2="324.34999999999997" stroke="#222" stroke-width="0.7"/>
<rect x="321.60" y="314.90" width="39.00" height="13.30" fill="#ff0000" stroke="#3a0000" stroke-width="0.5"/>
<line x1="379.3" y1="291" x2="421.7" y2="291" stroke="#444" stroke-width="0.7"/>
<line x1="379.8" y1="289.7" x2="379.8" y2="291" stroke="#444" stroke-width="0.6"/>
<text x="379.8" y="288.4" font-size="8" text-anchor="middle">0</text>
<line x1="392.7" y1="289.7" x2="392.7" y2="291" stroke="#444" stroke-width="0.6"/>
<text x="392.7" y="288.4" font-size="8" text-anchor="middle">1</text>
<line x1="405.6" y1="289.7" x2="405.6" y2="291" stroke="#444" stroke-width="0.6"/>
<text x="405.6" y="288.4" font-size="8" text-anchor="middle">2</text>
<line x1="418.5" y1="289.7" x2="418.5" y2="291" stroke="#444" stroke-width="0.6"/>
<text x="418.5" y="288.4" font-size="8" text-anchor="middle">3</text>
<line x1="379.6" y1="291" x2="379.6" y2="331.5" stroke="#444" stroke-width="0.7"/>
<line x1="378.1" y1="301.05" x2="379.6" y2="301.05" stroke="#444" stroke-width="0.5"/>
<line x1="402" y1="301.05" x2="403.7" y2="301.05" stroke="#222" stroke-width="0.6"/>
<line x1="403.7" y1="298.25" x2="403.7" y2="303.85" stroke="#222" stroke-width="0.7"/>
<rect x="379.60" y="294.30" width="22.40" height="13.50" fill="#000"/>
<line x1="378.1" y1="321.54999999999995" x2="379.6" y2="321.54999999999995" stroke="#444" stroke-width="0.5"/>
<line x1="414.7" y1="321.54999999999995" x2="419" y2="321.54999999999995" stroke="#222" stroke-width="0.6"/>
<line x1="419" y1="318.74999999999994" x2="419" y2="324.34999999999997" stroke="#222" stroke-width="0.7"/>
<rect x="379.80" y="314.90" width="34.70" height="13.30" fill="#ff0000" stroke="#3a0000" stroke-width="0.5"/>
<line x1="304.8" y1="301.6" x2="304.8" y2="321.7" stroke="#333" stroke-width="0.7"/>
<text x="308.7" y="314.6" font-size="10" text-anchor="middle" style="fill:#000" stroke="#000" stroke-width="0.25">*</text>
<text x="308.7" y="319.6" font-size="10" text-anchor="middle" style="fill:#000" stroke="#000" stroke-width="0.25">*</text>
<line x1="420.8" y1="302.2" x2="420.8" y2="322.4" stroke="#333" stroke-width="0.7"/>
<text x="424.7" y="315.2" font-size="10" text-anchor="middle" style="fill:#000" stroke="#000" stroke-width="0.25">*</text>
<text x="424.7" y="320.2" font-size="10" text-anchor="middle" style="fill:#000" stroke="#000" stroke-width="0.25">*</text>
<rect x="273.00" y="334.40" width="136.00" height="17.20" fill="#dedede" rx="2.5"/>
<rect x="277.00" y="337.50" width="9.00" height="12.30" fill="#000"/>
<text x="287.6" y="346.9" font-size="8">control (n=22)</text>
<rect x="345.50" y="337.50" width="9.00" height="12.30" fill="#ff3300" stroke="#222" stroke-width="0.6"/>
<text x="358.2" y="346.9" font-size="8">CVB3 (n=19)</text>
</g>
<g id="panel-f">
<line x1="476.3" y1="73.2" x2="476.3" y2="148.20000000000002" stroke="#666" stroke-width="0.8"/>
<line x1="476.3" y1="147.9" x2="514.5" y2="147.9" stroke="#666" stroke-width="0.8"/>
<line x1="474.90000000000003" y1="73.2" x2="476.3" y2="73.2" stroke="#777" stroke-width="0.5"/>
<text x="474" y="76.3" font-size="8" text-anchor="end">30</text>
<line x1="474.90000000000003" y1="98.1" x2="476.3" y2="98.1" stroke="#777" stroke-width="0.5"/>
<text x="474" y="102.9" font-size="8" text-anchor="end">20</text>
<line x1="474.90000000000003" y1="123" x2="476.3" y2="123" stroke="#777" stroke-width="0.5"/>
<text x="474" y="127.1" font-size="8" text-anchor="end">10</text>
<line x1="474.90000000000003" y1="147.9" x2="476.3" y2="147.9" stroke="#777" stroke-width="0.5"/>
<text x="474" y="150.3" font-size="8" text-anchor="end">0</text>
<line x1="485.9" y1="86.4" x2="485.9" y2="101" stroke="#666" stroke-width="0.8"/>
<line x1="482.3" y1="86.4" x2="491.1" y2="86.4" stroke="#333" stroke-width="0.8"/>
<rect x="478.50" y="101.00" width="14.80" height="46.90" fill="#000"/>
<line x1="504.8" y1="79.8" x2="504.8" y2="97.3" stroke="#666" stroke-width="0.8"/>
<line x1="500.6" y1="79.8" x2="509.3" y2="79.8" stroke="#333" stroke-width="0.8"/>
<rect x="497.20" y="97.50" width="15.20" height="50.20" fill="#ff0000" stroke="#3a0000" stroke-width="0.5"/>
<text x="459.4" y="111.5" font-size="8" text-anchor="middle" transform="rotate(-90 459.4 111.5)">A´ average</text>
<line x1="476.5" y1="163.1" x2="476.5" y2="237.3" stroke="#666" stroke-width="0.8"/>
<line x1="476.5" y1="237" x2="514.8" y2="237" stroke="#666" stroke-width="0.8"/>
<line x1="475.1" y1="163.1" x2="476.5" y2="163.1" stroke="#777" stroke-width="0.5"/>
<text x="474" y="166.3" font-size="8" text-anchor="end">30</text>
<line x1="475.1" y1="187.7" x2="476.5" y2="187.7" stroke="#777" stroke-width="0.5"/>
<text x="474" y="192.0" font-size="8" text-anchor="end">20</text>
<line x1="475.1" y1="212.4" x2="476.5" y2="212.4" stroke="#777" stroke-width="0.5"/>
<text x="474" y="216.3" font-size="8" text-anchor="end">10</text>
<line x1="475.1" y1="237" x2="476.5" y2="237" stroke="#777" stroke-width="0.5"/>
<text x="474" y="239.1" font-size="8" text-anchor="end">0</text>
<line x1="486.5" y1="177.3" x2="486.5" y2="191.5" stroke="#666" stroke-width="0.8"/>
<line x1="482.3" y1="177.3" x2="491.4" y2="177.3" stroke="#333" stroke-width="0.8"/>
<rect x="479.00" y="191.50" width="15.00" height="45.50" fill="#000"/>
<line x1="505.5" y1="186.5" x2="505.5" y2="203.6" stroke="#666" stroke-width="0.8"/>
<line x1="501.4" y1="186.5" x2="510" y2="186.5" stroke="#333" stroke-width="0.8"/>
<rect x="498.20" y="203.80" width="14.60" height="33.00" fill="#ff0000" stroke="#3a0000" stroke-width="0.5"/>
<line x1="485" y1="170.9" x2="507.5" y2="170.9" stroke="#333" stroke-width="0.8"/>
<text x="496.2" y="170.3" font-size="11" text-anchor="middle" style="fill:#000" stroke="#000" stroke-width="0.25">*</text>
<text x="459.4" y="201.8" font-size="8" text-anchor="middle" transform="rotate(-90 459.4 201.8)">E´ average</text>
<line x1="476.5" y1="252.4" x2="476.5" y2="325.7" stroke="#666" stroke-width="0.8"/>
<line x1="476.5" y1="325.4" x2="514.8" y2="325.4" stroke="#666" stroke-width="0.8"/>
<line x1="475.1" y1="252.4" x2="476.5" y2="252.4" stroke="#777" stroke-width="0.5"/>
<text x="474" y="255.3" font-size="8" text-anchor="end">1.5</text>
<line x1="475.1" y1="276.8" x2="476.5" y2="276.8" stroke="#777" stroke-width="0.5"/>
<text x="474" y="281.1" font-size="8" text-anchor="end">1.0</text>
<line x1="475.1" y1="301.1" x2="476.5" y2="301.1" stroke="#777" stroke-width="0.5"/>
<text x="474" y="305.5" font-size="8" text-anchor="end">0.5</text>
<line x1="475.1" y1="325.4" x2="476.5" y2="325.4" stroke="#777" stroke-width="0.5"/>
<text x="474" y="328.9" font-size="8" text-anchor="end">0</text>
<line x1="486.5" y1="263.1" x2="486.5" y2="277.5" stroke="#666" stroke-width="0.8"/>
<line x1="482.3" y1="263.1" x2="491.4" y2="263.1" stroke="#333" stroke-width="0.8"/>
<rect x="479.00" y="277.50" width="15.00" height="47.90" fill="#000"/>
<line x1="505.5" y1="282.2" x2="505.5" y2="292.8" stroke="#666" stroke-width="0.8"/>
<line x1="501.4" y1="282.2" x2="510" y2="282.2" stroke="#333" stroke-width="0.8"/>
<rect x="498.20" y="293.00" width="14.60" height="32.20" fill="#ff0000" stroke="#3a0000" stroke-width="0.5"/>
<line x1="485.5" y1="255.3" x2="508" y2="255.3" stroke="#333" stroke-width="0.8"/>
<text x="492.9" y="255.5" font-size="11" text-anchor="middle" style="fill:#000" stroke="#000" stroke-width="0.25">*</text>
<text x="497.5" y="255.5" font-size="11" text-anchor="middle" style="fill:#000" stroke="#000" stroke-width="0.25">*</text>
<text x="502.1" y="255.5" font-size="11" text-anchor="middle" style="fill:#000" stroke="#000" stroke-width="0.25">*</text>
<text x="459.4" y="289" font-size="8" text-anchor="middle" transform="rotate(-90 459.4 289)">Ratio E´A´ average</text>
<rect x="529.80" y="115.20" width="17.70" height="134.40" fill="#dedede" rx="2.5"/>
<rect x="532.40" y="237.00" width="11.80" height="8.40" fill="#000"/>
<text x="541.3" y="209.7" font-size="8" text-anchor="middle" transform="rotate(-90 541.3 209.7)">control (n=11)</text>
<rect x="532.40" y="169.50" width="11.80" height="8.70" fill="#ff3300" stroke="#222" stroke-width="0.6"/>
<text x="541.3" y="141.7" font-size="8" text-anchor="middle" transform="rotate(-90 541.3 141.7)">CVB3 (n=9)</text>
</g>
</svg>
</body>
</html>
